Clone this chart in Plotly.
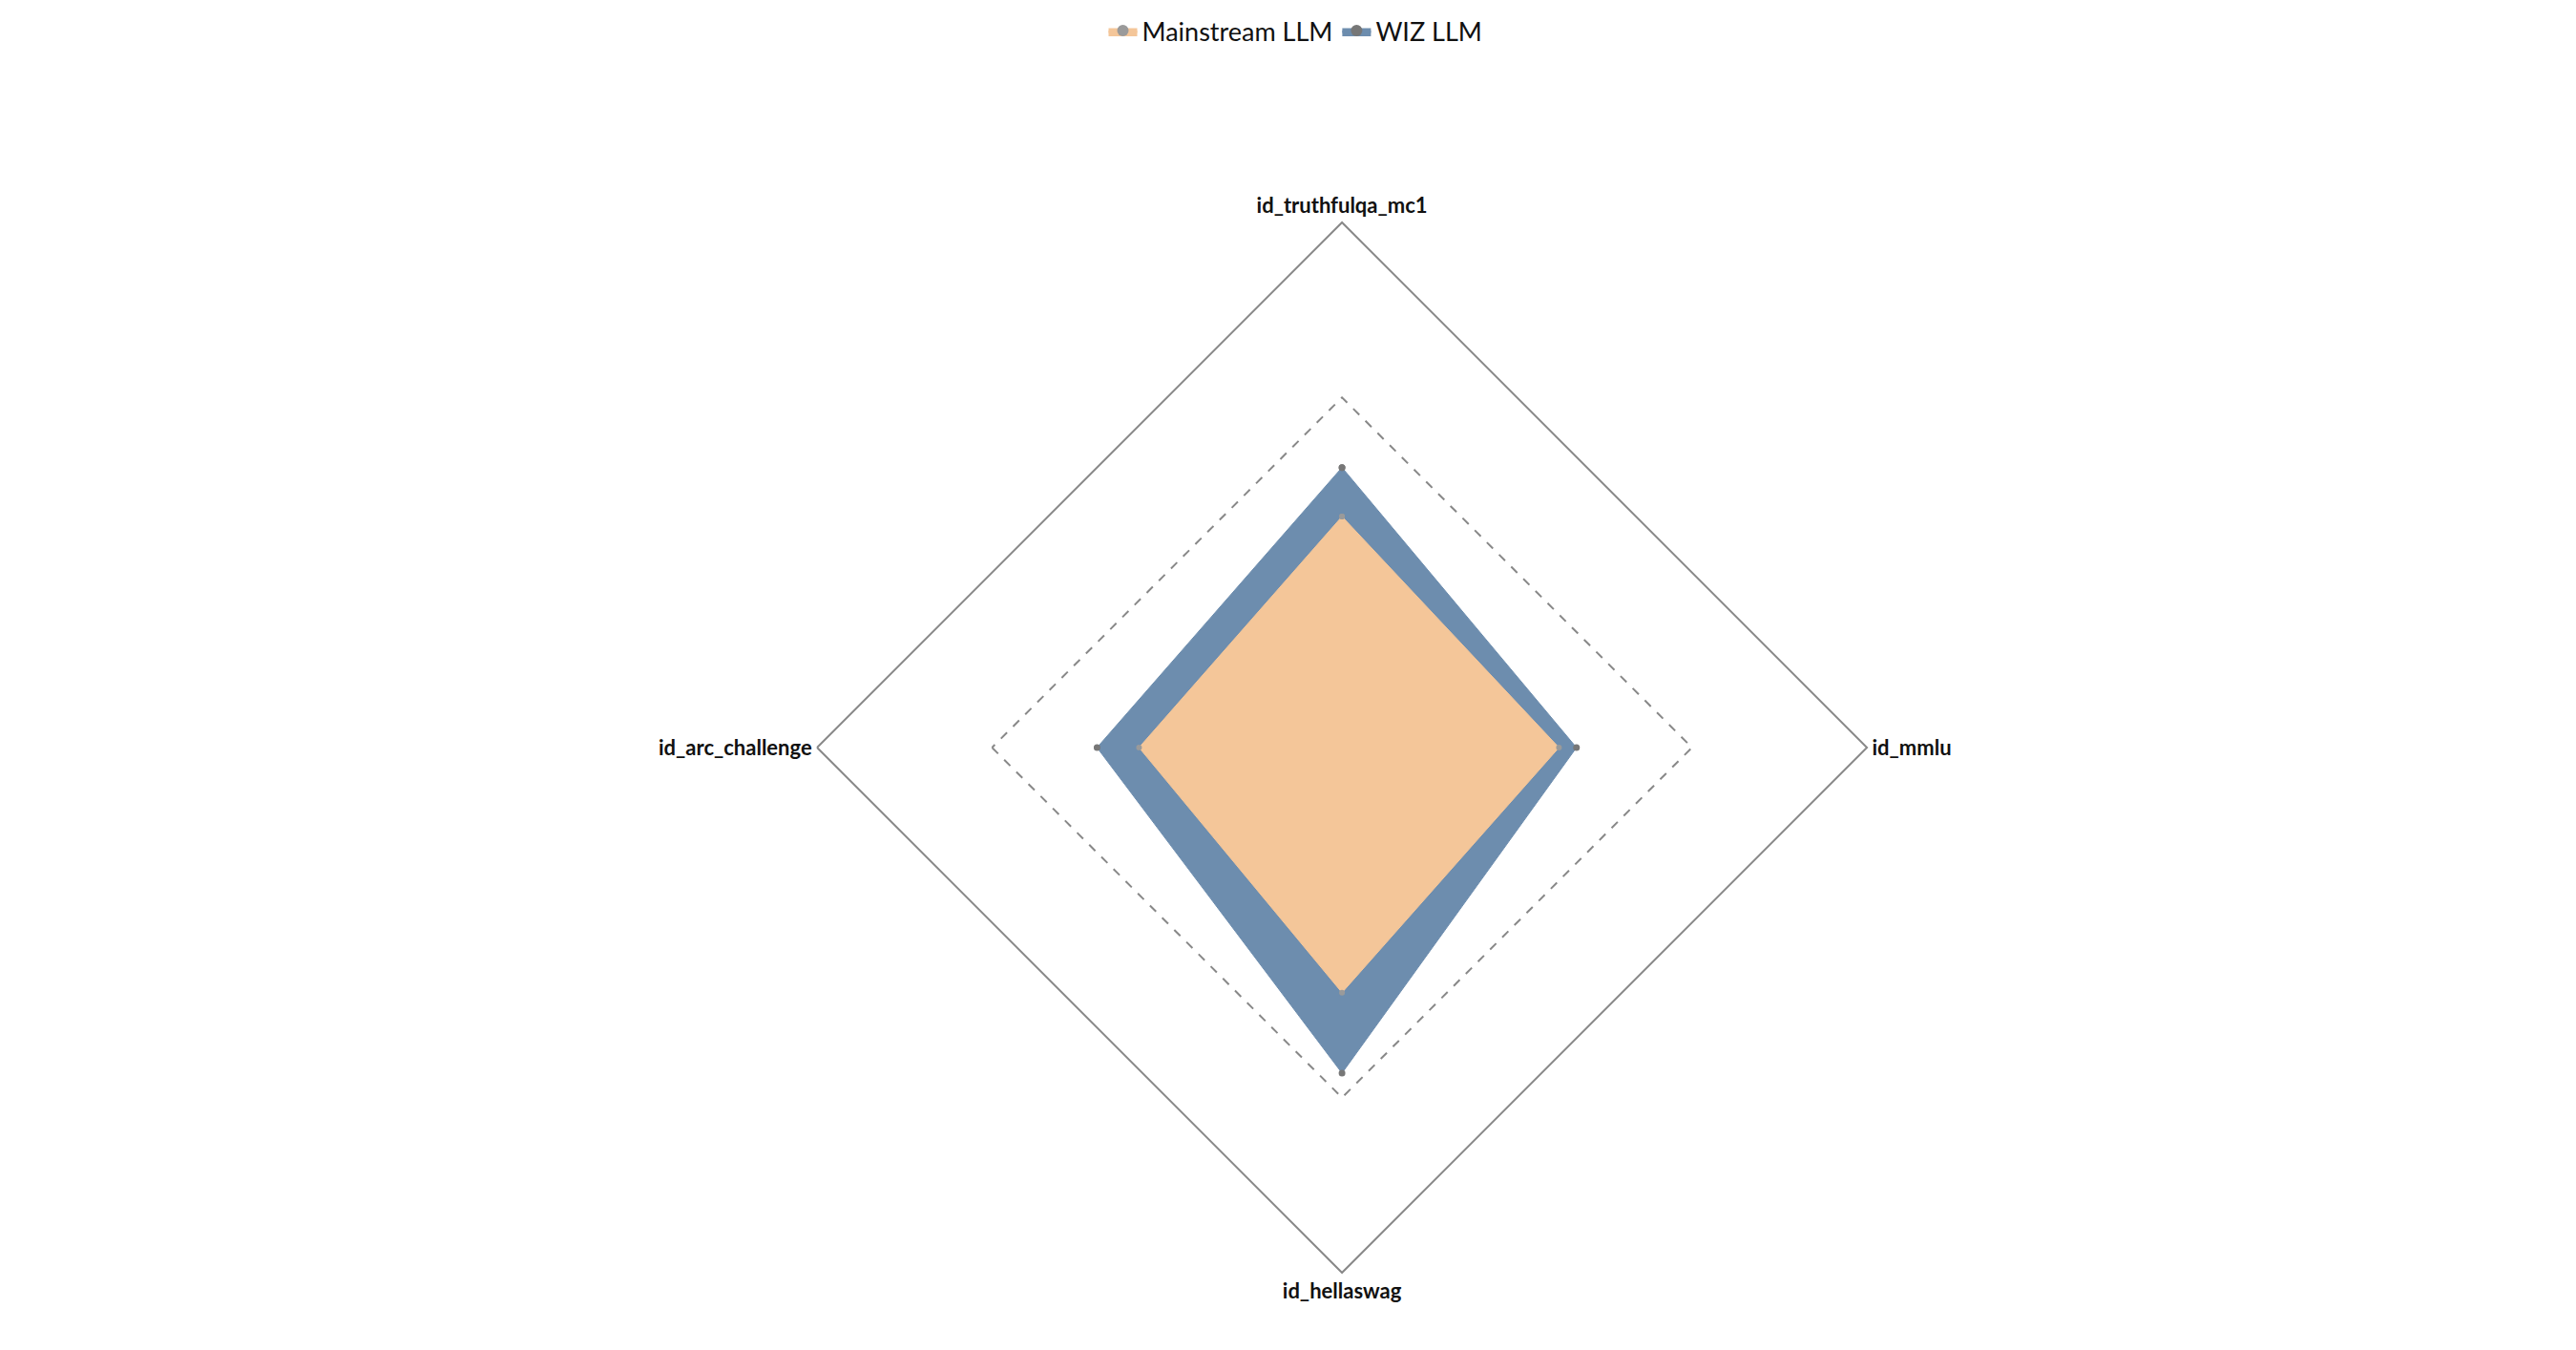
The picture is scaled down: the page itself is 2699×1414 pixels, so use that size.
import plotly.graph_objects as go

categories = ["id_truthfulqa_mc1", "id_mmlu", "id_hellaswag", "id_arc_challenge"]
wiz_llm = [0.40, 0.335, 0.465, 0.35]
mainstream_llm = [0.33, 0.31, 0.35, 0.29]
ring_ticks = [0.25, 0.5, 0.75]

fig = go.Figure()

# WIZ drawn first so the mainstream area sits on top of it
fig.add_trace(go.Scatterpolar(
    r=wiz_llm + wiz_llm[:1], theta=categories + categories[:1],
    name="WIZ LLM", fill="toself", fillcolor="#6D8DAE",
    line=dict(color="#6D8DAE", width=1), mode="lines+markers",
    marker=dict(color="#777777", size=7), legendrank=2))
fig.add_trace(go.Scatterpolar(
    r=mainstream_llm + mainstream_llm[:1], theta=categories + categories[:1],
    name="Mainstream LLM", fill="toself", fillcolor="#F4C699",
    line=dict(color="#F4C699", width=1), mode="lines+markers",
    marker=dict(color="#9a9a9a", size=6), legendrank=1))

fig.update_layout(
    width=2699, height=1414,
    paper_bgcolor="white",
    font=dict(family="Lato", size=22, color="#111111"),
    margin=dict(l=0, r=0, t=205, b=89),
    legend=dict(orientation="h", x=0.5, xanchor="center", y=1.16, yanchor="bottom",
                font=dict(size=27), itemsizing="constant"),
    polar=dict(
        domain=dict(x=[0.2, 0.836], y=[0, 1]),
        bgcolor="white",
        gridshape="linear",
        radialaxis=dict(range=[0, 0.75], tickvals=ring_ticks, showticklabels=False,
                        showline=False, ticks="", gridcolor="#888888", griddash="dash",
                        gridwidth=2),
        angularaxis=dict(rotation=90, direction="clockwise", showgrid=False,
                         linecolor="#888888", linewidth=2, griddash="dash",
                         ticks="", tickfont=dict(size=22, family="Lato", weight="bold")),
    ),
)
fig.update_polars(angularaxis_layer="below traces")

fig.write_html("out.html")
